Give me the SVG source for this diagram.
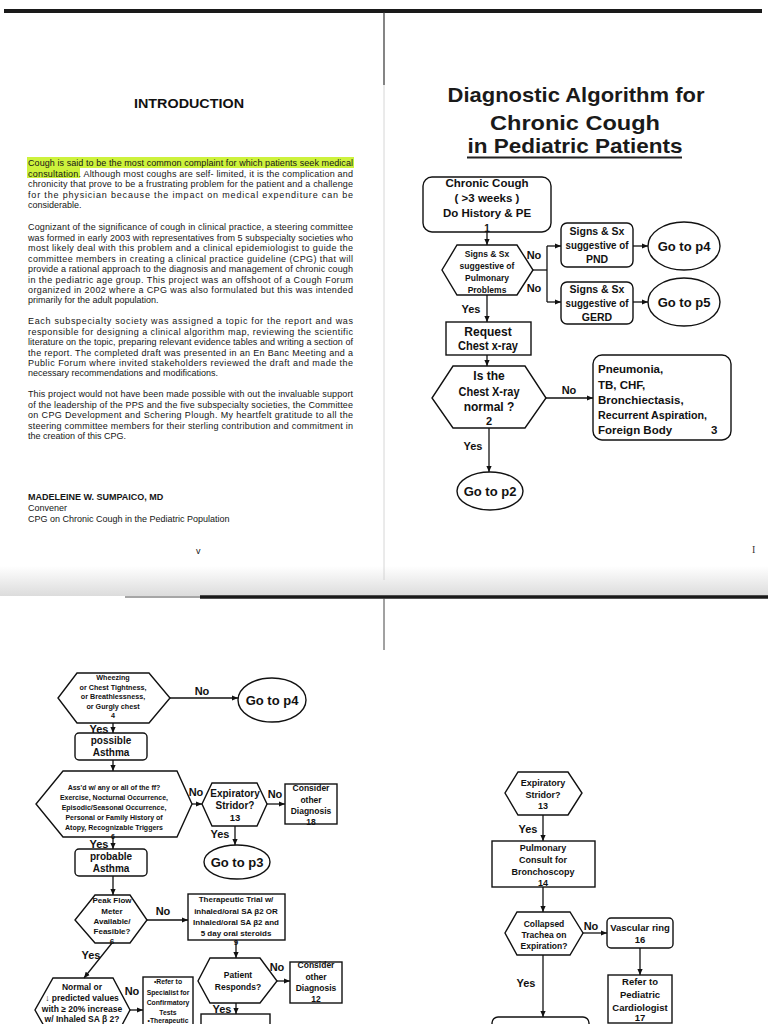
<svg xmlns="http://www.w3.org/2000/svg" width="768" height="1024" viewBox="0 0 768 1024">
<defs>
<marker id="ah" viewBox="0 0 6 6" markerWidth="6" markerHeight="6" refX="6" refY="3" orient="auto" markerUnits="userSpaceOnUse"><path d="M0,0.4 L6,3 L0,5.6 z" fill="#111"/></marker>
<linearGradient id="seam" x1="0" y1="0" x2="0" y2="1"><stop offset="0" stop-color="#ffffff"/><stop offset="0.6" stop-color="#eaeaea"/><stop offset="1" stop-color="#dcdcdc"/></linearGradient>
</defs>
<style>
.s{fill:none;stroke:#111;stroke-width:1.4}
.c{fill:none;stroke:#111;stroke-width:1.3}
.t{font-family:"Liberation Sans",Arial,sans-serif;font-weight:bold;fill:#111;text-anchor:middle}
.l{font-family:"Liberation Sans",Arial,sans-serif;font-weight:bold;fill:#111}
.p{font-family:"Liberation Sans",Arial,sans-serif;font-size:9px;fill:#151515}
.ti{font-family:"Liberation Sans",Arial,sans-serif;font-weight:bold;font-size:21px;fill:#1a1a1a;text-anchor:middle}
</style>
<rect width="768" height="1024" fill="#ffffff"/>
<rect x="0" y="566" width="768" height="30" fill="url(#seam)"/>
<g id="page-frame">
<line x1="4" y1="11" x2="762" y2="11" stroke="#1a1a1a" stroke-width="4"/>
<line x1="384" y1="12" x2="384" y2="85" stroke="#333" stroke-width="1.2"/>
<line x1="384" y1="85" x2="384" y2="580" stroke="#ccc" stroke-width="0.8"/>
<line x1="125" y1="597" x2="200" y2="597" stroke="#888" stroke-width="1.5"/>
<line x1="200" y1="597" x2="768" y2="597" stroke="#1a1a1a" stroke-width="3.5"/>
<line x1="384" y1="598" x2="384" y2="650" stroke="#444" stroke-width="1"/>
</g>
<g id="intro">
<text class="l" x="189" y="108" font-size="13.5" text-anchor="middle" textLength="110" lengthAdjust="spacingAndGlyphs">INTRODUCTION</text>
<rect x="27" y="157" width="327" height="11" fill="#cdf23c"/>
<rect x="27" y="168" width="53" height="10" fill="#cdf23c"/>
<text class="p" x="28" y="166" textLength="325" lengthAdjust="spacing">Cough is said to be the most common complaint for which patients seek medical</text>
<text class="p" x="28" y="176.5" textLength="325" lengthAdjust="spacing">consultation. Although most coughs are self- limited, it is the complication and</text>
<text class="p" x="28" y="187" textLength="325" lengthAdjust="spacing">chronicity that prove to be  a frustrating problem for the patient and a challenge</text>
<text class="p" x="28" y="197.5" textLength="325" lengthAdjust="spacing">for the physician because the impact on medical expenditure can be</text>
<text class="p" x="28" y="208">considerable.</text>
<text class="p" x="28" y="230" textLength="325" lengthAdjust="spacing">Cognizant of the significance of cough in clinical practice, a steering committee</text>
<text class="p" x="28" y="240.5" textLength="325" lengthAdjust="spacing">was formed in early 2003 with representatives from 5 subspecialty societies who</text>
<text class="p" x="28" y="251" textLength="325" lengthAdjust="spacing">most likely deal with this problem and a clinical epidemiologist to guide the</text>
<text class="p" x="28" y="261.5" textLength="325" lengthAdjust="spacing">committee members in  creating a clinical practice guideline (CPG) that will</text>
<text class="p" x="28" y="272" textLength="325" lengthAdjust="spacing">provide a rational approach to the diagnosis and management of chronic cough</text>
<text class="p" x="28" y="282.5" textLength="325" lengthAdjust="spacing">in the pediatric age group.  This project was an offshoot of a Cough Forum</text>
<text class="p" x="28" y="293" textLength="325" lengthAdjust="spacing">organized in 2002 where a CPG was also formulated but this was intended</text>
<text class="p" x="28" y="303">primarily for the adult population.</text>
<text class="p" x="28" y="324" textLength="325" lengthAdjust="spacing">Each subspecialty society was assigned a topic for the report and was</text>
<text class="p" x="28" y="334.5" textLength="325" lengthAdjust="spacing">responsible for  designing a clinical algorithm map, reviewing the scientific</text>
<text class="p" x="28" y="345" textLength="325" lengthAdjust="spacing">literature on the topic, preparing relevant evidence tables and writing a section of</text>
<text class="p" x="28" y="355.5" textLength="325" lengthAdjust="spacing">the report.  The completed draft was presented in an En Banc Meeting and a</text>
<text class="p" x="28" y="366" textLength="325" lengthAdjust="spacing">Public Forum where invited stakeholders reviewed the draft and made the</text>
<text class="p" x="28" y="376">necessary recommendations and modifications.</text>
<text class="p" x="28" y="397" textLength="325" lengthAdjust="spacing">This  project would not have been made possible with out the invaluable support</text>
<text class="p" x="28" y="407.5" textLength="325" lengthAdjust="spacing">of the leadership of the PPS and the five subspecialty societies, the Committee</text>
<text class="p" x="28" y="418" textLength="325" lengthAdjust="spacing">on CPG Development and Schering Plough.  My heartfelt gratitude to all the</text>
<text class="p" x="28" y="428.5" textLength="325" lengthAdjust="spacing">steering committee members for their sterling contribution and commitment  in</text>
<text class="p" x="28" y="439">the creation of this CPG.</text>
<text class="p" x="28" y="500" font-weight="bold">MADELEINE W. SUMPAICO, MD</text>
<text class="p" x="28" y="511">Convener</text>
<text class="p" x="28" y="522">CPG on Chronic Cough in the Pediatric Population</text>
<text class="p" x="196" y="554" font-size="8">v</text>
<text x="752" y="553" font-family="Liberation Serif,serif" font-size="10" fill="#333">I</text>
</g>
<g id="title">
<text class="ti" x="576" y="102" textLength="257" lengthAdjust="spacingAndGlyphs">Diagnostic Algorithm for</text>
<text class="ti" x="575" y="130" textLength="170" lengthAdjust="spacingAndGlyphs">Chronic Cough</text>
<text class="ti" x="575" y="153" textLength="215" lengthAdjust="spacingAndGlyphs">in Pediatric Patients</text>
<line x1="467" y1="157.5" x2="682" y2="157.5" stroke="#222" stroke-width="1.8"/>
</g>
<g id="connectors">
<line class="c" x1="487" y1="232" x2="487" y2="245" marker-end="url(#ah)"/>
<polyline class="c" points="533,270 547,270"/>
<line class="c" x1="547" y1="246" x2="547" y2="302"/>
<line class="c" x1="547" y1="246" x2="561" y2="246" marker-end="url(#ah)"/>
<line class="c" x1="547" y1="302" x2="561" y2="302" marker-end="url(#ah)"/>
<line class="c" x1="633" y1="246" x2="648" y2="246" marker-end="url(#ah)"/>
<line class="c" x1="633" y1="302" x2="648" y2="302" marker-end="url(#ah)"/>
<line class="c" x1="487" y1="295" x2="487" y2="322" marker-end="url(#ah)"/>
<line class="c" x1="487" y1="355" x2="487" y2="366" marker-end="url(#ah)"/>
<line class="c" x1="546" y1="398" x2="593" y2="398" marker-end="url(#ah)"/>
<line class="c" x1="489" y1="428" x2="489" y2="472" marker-end="url(#ah)"/>
<line class="c" x1="170" y1="698" x2="238" y2="698" marker-end="url(#ah)"/>
<line class="c" x1="113" y1="723" x2="113" y2="733" marker-end="url(#ah)"/>
<line class="c" x1="113" y1="760" x2="113" y2="771" marker-end="url(#ah)"/>
<line class="c" x1="192" y1="804" x2="202" y2="804" marker-end="url(#ah)"/>
<line class="c" x1="267" y1="804" x2="285" y2="804" marker-end="url(#ah)"/>
<line class="c" x1="235" y1="826" x2="235" y2="845" marker-end="url(#ah)"/>
<line class="c" x1="113" y1="837" x2="113" y2="849" marker-end="url(#ah)"/>
<line class="c" x1="113" y1="876" x2="113" y2="895" marker-end="url(#ah)"/>
<line class="c" x1="147" y1="920" x2="188" y2="920" marker-end="url(#ah)"/>
<line class="c" x1="236" y1="940" x2="236" y2="958" marker-end="url(#ah)"/>
<line class="c" x1="277" y1="981" x2="290" y2="981" marker-end="url(#ah)"/>
<line class="c" x1="236" y1="1003" x2="236" y2="1014" marker-end="url(#ah)"/>
<line class="c" x1="112" y1="943" x2="84" y2="978" marker-end="url(#ah)"/>
<line class="c" x1="130" y1="1010" x2="143" y2="1010" marker-end="url(#ah)"/>
<line class="c" x1="543" y1="815" x2="543" y2="841" marker-end="url(#ah)"/>
<line class="c" x1="543" y1="887" x2="543" y2="912" marker-end="url(#ah)"/>
<line class="c" x1="583" y1="933" x2="607" y2="933" marker-end="url(#ah)"/>
<line class="c" x1="640" y1="948" x2="640" y2="975" marker-end="url(#ah)"/>
<line class="c" x1="543" y1="955" x2="543" y2="1017" marker-end="url(#ah)"/>
</g>
<g id="edge-labels">
<text class="t" x="534" y="259" font-size="11">No</text>
<text class="t" x="534" y="292" font-size="11">No</text>
<text class="t" x="471" y="313" font-size="11">Yes</text>
<text class="t" x="569" y="394" font-size="11">No</text>
<text class="t" x="473" y="450" font-size="11">Yes</text>
<text class="t" x="202" y="695" font-size="11">No</text>
<text class="t" x="99" y="733" font-size="11">Yes</text>
<text class="t" x="196" y="796" font-size="11">No</text>
<text class="t" x="275" y="798" font-size="11">No</text>
<text class="t" x="220" y="838" font-size="11">Yes</text>
<text class="t" x="99" y="848" font-size="11">Yes</text>
<text class="t" x="163" y="915" font-size="11">No</text>
<text class="t" x="91" y="959" font-size="11">Yes</text>
<text class="t" x="277" y="971" font-size="11">No</text>
<text class="t" x="222" y="1013" font-size="11">Yes</text>
<text class="t" x="132" y="995" font-size="11">No</text>
<text class="t" x="528" y="833" font-size="11">Yes</text>
<text class="t" x="591" y="930" font-size="11">No</text>
<text class="t" x="526" y="987" font-size="11">Yes</text>
</g>
<g id="n-chronic">
<rect class="s" x="423" y="177" width="128" height="55" rx="9"/>
<text class="t" x="487" y="187" font-size="11.5">Chronic Cough</text>
<text class="t" x="487" y="202" font-size="11.5">( &gt;3 weeks )</text>
<text class="t" x="487" y="217" font-size="11.5">Do History &amp; PE</text>
<text class="t" x="487" y="232" font-size="10">1</text>
</g>
<g id="n-pulm">
<polygon class="s" points="457,245 517,245 533,270 517,295 457,295 442,270"/>
<text class="t" x="487" y="257" font-size="8.5">Signs &amp; Sx</text>
<text class="t" x="487" y="269" font-size="8.5">suggestive of</text>
<text class="t" x="487" y="281" font-size="8.5">Pulmonary</text>
<text class="t" x="487" y="293" font-size="8.5">Problems</text>
</g>
<g id="n-pnd">
<rect class="s" x="561" y="223" width="72" height="44" rx="6"/>
<text class="t" x="597" y="235" font-size="10.5">Signs &amp; Sx</text>
<text class="t" x="597" y="249" font-size="10.5" textLength="63" lengthAdjust="spacingAndGlyphs">suggestive of</text>
<text class="t" x="597" y="263" font-size="10.5">PND</text>
</g>
<g id="n-p4a">
<ellipse class="s" cx="684" cy="246" rx="36" ry="24"/>
<text class="t" x="684" y="251" font-size="13">Go to p4</text>
</g>
<g id="n-gerd">
<rect class="s" x="561" y="282" width="72" height="42" rx="6"/>
<text class="t" x="597" y="293" font-size="10.5">Signs &amp; Sx</text>
<text class="t" x="597" y="307" font-size="10.5" textLength="63" lengthAdjust="spacingAndGlyphs">suggestive of</text>
<text class="t" x="597" y="321" font-size="10.5">GERD</text>
</g>
<g id="n-p5">
<ellipse class="s" cx="684" cy="302" rx="36" ry="24"/>
<text class="t" x="684" y="307" font-size="13">Go to p5</text>
</g>
<g id="n-xray">
<rect class="s" x="446" y="322" width="85" height="33"/>
<text class="t" x="488" y="336" font-size="12">Request</text>
<text class="t" x="488" y="350" font-size="12" textLength="60" lengthAdjust="spacingAndGlyphs">Chest x-ray</text>
</g>
<g id="n-normal">
<polygon class="s" points="453,366 525,366 546,398 525,428 453,428 432,398"/>
<text class="t" x="489" y="380" font-size="12">Is the</text>
<text class="t" x="489" y="396" font-size="12" textLength="61" lengthAdjust="spacingAndGlyphs">Chest X-ray</text>
<text class="t" x="489" y="411" font-size="12">normal ?</text>
<text class="t" x="489" y="425" font-size="11">2</text>
</g>
<g id="n-dx3">
<rect class="s" x="593" y="355" width="138" height="85" rx="9"/>
<text class="l" x="598" y="373" font-size="11.5">Pneumonia,</text>
<text class="l" x="598" y="389" font-size="11.5">TB, CHF,</text>
<text class="l" x="598" y="404" font-size="11.5">Bronchiectasis,</text>
<text class="l" x="598" y="419" font-size="11.5" textLength="109" lengthAdjust="spacingAndGlyphs">Recurrent Aspiration,</text>
<text class="l" x="598" y="434" font-size="11.5">Foreign Body</text>
<text class="l" x="711" y="434" font-size="11.5">3</text>
</g>
<g id="n-p2">
<ellipse class="s" cx="490" cy="491" rx="33" ry="19"/>
<text class="t" x="490" y="496" font-size="13">Go to p2</text>
</g>
<g id="n-wheeze">
<polygon class="s" points="77,673 149,673 170,698 149,723 77,723 58,698"/>
<text class="t" x="113" y="680" font-size="7.2">Wheezing</text>
<text class="t" x="113" y="689.5" font-size="7.2">or Chest Tightness,</text>
<text class="t" x="113" y="699" font-size="7.2">or Breathlessness,</text>
<text class="t" x="113" y="708.5" font-size="7.2">or Gurgly chest</text>
<text class="t" x="113" y="717.5" font-size="7.2">4</text>
</g>
<g id="n-p4b">
<ellipse class="s" cx="272" cy="700" rx="34" ry="22"/>
<text class="t" x="272" y="705" font-size="13">Go to p4</text>
</g>
<g id="n-possible">
<rect class="s" x="75" y="733" width="72" height="27" rx="4"/>
<text class="t" x="111" y="744" font-size="10">possible</text>
<text class="t" x="111" y="756" font-size="10">Asthma</text>
</g>
<g id="n-assd">
<polygon class="s" points="63,771 177,771 192,804 177,837 63,837 36,804"/>
<text class="t" x="114" y="790" font-size="7">Ass'd  w/ any  or all of the ff?</text>
<text class="t" x="114" y="800" font-size="7">Exercise, Nocturnal Occurrence,</text>
<text class="t" x="114" y="810" font-size="7">Episodic/Seasonal Occurrence,</text>
<text class="t" x="114" y="820" font-size="7">Personal or Family History of</text>
<text class="t" x="114" y="830" font-size="7">Atopy, Recognizable Triggers</text>
<text class="t" x="113" y="839" font-size="7">6</text>
</g>
<g id="n-stridor1">
<polygon class="s" points="212,783 257,783 267,804 257,826 212,826 202,804"/>
<text class="t" x="235" y="797" font-size="10">Expiratory</text>
<text class="t" x="235" y="809" font-size="10">Stridor?</text>
<text class="t" x="235" y="821" font-size="9.5">13</text>
</g>
<g id="n-consider18">
<rect class="s" x="285" y="784" width="52" height="40"/>
<text class="t" x="311" y="791" font-size="8.5">Consider</text>
<text class="t" x="311" y="803" font-size="8.5">other</text>
<text class="t" x="311" y="814" font-size="8.5">Diagnosis</text>
<text class="t" x="311" y="825" font-size="8.5">18</text>
</g>
<g id="n-p3">
<ellipse class="s" cx="237" cy="862" rx="33" ry="17"/>
<text class="t" x="237" y="867" font-size="13">Go to p3</text>
</g>
<g id="n-probable">
<rect class="s" x="75" y="849" width="72" height="27" rx="4"/>
<text class="t" x="111" y="860" font-size="10">probable</text>
<text class="t" x="111" y="872" font-size="10">Asthma</text>
</g>
<g id="n-peak">
<polygon class="s" points="95,895 130,895 147,920 130,943 95,943 75,920"/>
<text class="t" x="112" y="903" font-size="8">Peak Flow</text>
<text class="t" x="112" y="913.5" font-size="8">Meter</text>
<text class="t" x="112" y="924" font-size="8">Available/</text>
<text class="t" x="112" y="934" font-size="8">Feasible?</text>
<text class="t" x="112" y="943.5" font-size="8">6</text>
</g>
<g id="n-trial">
<rect class="s" x="188" y="894" width="97" height="46"/>
<text class="t" x="236" y="902" font-size="8">Therapeutic Trial w/</text>
<text class="t" x="236" y="913.5" font-size="8">inhaled/oral SA β2 OR</text>
<text class="t" x="236" y="925" font-size="8">Inhaled/oral SA β2  and</text>
<text class="t" x="236" y="936" font-size="8">5 day oral steroids</text>
<text class="t" x="236" y="945" font-size="8">9</text>
</g>
<g id="n-responds">
<polygon class="s" points="210,958 260,958 277,981 260,1003 210,1003 198,981"/>
<text class="t" x="238" y="978" font-size="8.5">Patient</text>
<text class="t" x="238" y="990" font-size="8.5">Responds?</text>
</g>
<g id="n-consider12">
<rect class="s" x="290" y="962" width="52" height="41"/>
<text class="t" x="316" y="968" font-size="8.5">Consider</text>
<text class="t" x="316" y="980" font-size="8.5">other</text>
<text class="t" x="316" y="991" font-size="8.5">Diagnosis</text>
<text class="t" x="316" y="1002" font-size="8.5">12</text>
</g>
<g id="n-bottom1">
<rect class="s" x="201" y="1014" width="69" height="20"/>
</g>
<g id="n-pef">
<polygon class="s" points="53,978 113,978 130,1010 113,1042 53,1042 35,1010"/>
<text class="t" x="82" y="990" font-size="8.5">Normal or</text>
<text class="t" x="82" y="1001" font-size="8.5">↓ predicted values</text>
<text class="t" x="82" y="1011.5" font-size="8.5">with  ≥ 20% increase</text>
<text class="t" x="82" y="1021.5" font-size="8.5">w/ Inhaled SA β 2?</text>
</g>
<g id="n-refer-spec">
<rect class="s" x="143" y="977" width="50" height="60"/>
<text class="t" x="168" y="984" font-size="6.8">•Refer to</text>
<text class="t" x="168" y="995" font-size="6.8">Specialist for</text>
<text class="t" x="168" y="1005" font-size="6.8">Confirmatory</text>
<text class="t" x="168" y="1014.5" font-size="6.8">Tests</text>
<text class="t" x="168" y="1023" font-size="6.8">•Therapeutic</text>
</g>
<g id="n-stridor2">
<polygon class="s" points="518,772 568,772 582,793 568,815 518,815 505,793"/>
<text class="t" x="543" y="786" font-size="9">Expiratory</text>
<text class="t" x="543" y="798" font-size="9">Stridor?</text>
<text class="t" x="543" y="809" font-size="9">13</text>
</g>
<g id="n-pulmconsult">
<rect class="s" x="492" y="841" width="103" height="46"/>
<text class="t" x="543" y="851" font-size="9">Pulmonary</text>
<text class="t" x="543" y="863" font-size="9">Consult for</text>
<text class="t" x="543" y="875" font-size="9">Bronchoscopy</text>
<text class="t" x="543" y="886" font-size="9">14</text>
</g>
<g id="n-collapsed">
<polygon class="s" points="517,912 570,912 583,933 570,955 517,955 505,933"/>
<text class="t" x="544" y="927" font-size="8.5">Collapsed</text>
<text class="t" x="544" y="938" font-size="8.5">Trachea on</text>
<text class="t" x="544" y="949" font-size="8.5">Expiration?</text>
</g>
<g id="n-vascular">
<rect class="s" x="607" y="918" width="66" height="30" rx="4"/>
<text class="t" x="640" y="931" font-size="9.5">Vascular ring</text>
<text class="t" x="640" y="943" font-size="9.5">16</text>
</g>
<g id="n-cardio">
<rect class="s" x="608" y="975" width="64" height="48"/>
<text class="t" x="640" y="985" font-size="9.5">Refer to</text>
<text class="t" x="640" y="998" font-size="9.5">Pediatric</text>
<text class="t" x="640" y="1011" font-size="9.5">Cardiologist</text>
<text class="t" x="640" y="1021" font-size="9.5">17</text>
</g>
<g id="n-bottom2">
<rect class="s" x="492" y="1017" width="97" height="20" rx="6"/>
</g>
</svg>
